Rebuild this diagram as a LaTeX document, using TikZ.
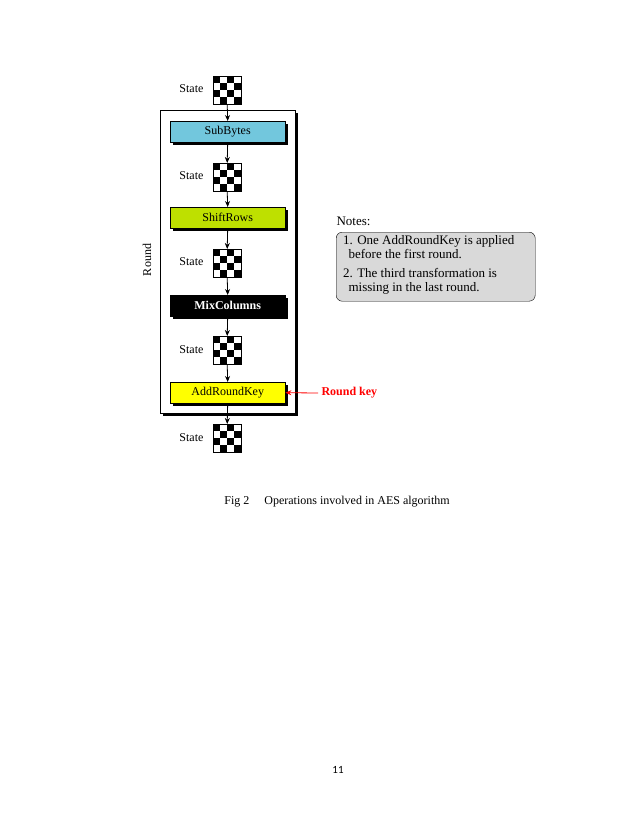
\documentclass[tikz,border=0pt]{standalone}
\usepackage{fontspec}
\setmainfont{Liberation Serif}
\newfontfamily\pagefont{Carlito}
\usetikzlibrary{arrows.meta}
\definecolor{subc}{HTML}{72C7DD}
\definecolor{shiftc}{HTML}{BEE000}
\definecolor{addc}{HTML}{FFFF00}
\definecolor{notec}{HTML}{D9D9D9}
\tikzset{x=1pt,y=-1pt,
  opbox/.style={draw,minimum width=115pt,minimum height=21pt,inner sep=0pt,font=\fontsize{12}{14}\selectfont,
    drop shadow/.style={}},
  shadowfill/.style={fill=black},
  statelbl/.style={font=\fontsize{12}{14}\selectfont,anchor=east},
  arr/.style={-{Stealth[length=6pt,width=5pt]},thick}}
\newcommand{\checkgrid}[3]{% name, x, y (top-left)
  \node[draw,minimum size=28pt,inner sep=0pt,anchor=north west] (#1) at (#2,#3) {};
  \foreach \i in {0,...,3}{\foreach \j in {0,...,3}{
    \pgfmathparse{int(mod(\i+\j,2))}
    \ifnum\pgfmathresult=0 \fill (#2+7*\i,#3+7*\j) rectangle ++(7,7);\fi}}
  \draw (#2,#3) rectangle ++(28,28);}
\begin{document}
\begin{tikzpicture}
\useasboundingbox (0,0) rectangle (638,826);
% round frame with shadow
\fill (163,113) rectangle (298,416);
\node[draw,fill=white,minimum width=135pt,minimum height=303pt,inner sep=0pt,anchor=north west] (frame) at (160,110) {};
\node[rotate=90,font=\fontsize{12}{14}\selectfont] (roundlbl) at (147,260) {Round};
% states
\checkgrid{s1}{213}{76}
\checkgrid{s2}{213}{163}
\checkgrid{s3}{213}{249}
\checkgrid{s4}{213}{336}
\checkgrid{s5}{213}{424}
\node[statelbl] (l1) at (207,89) {State};
\node[statelbl] (l2) at (207,176) {State};
\node[statelbl] (l3) at (207,262) {State};
\node[statelbl] (l4) at (207,350) {State};
\node[statelbl] (l5) at (207,438) {State};
% op boxes with shadow
\foreach \yy in {121,207,295,382}{\fill (173,\yy+3) rectangle (288,\yy+24);}
\node[opbox,fill=subc,anchor=north west] (sub) at (170,121) {SubBytes};
\node[opbox,fill=shiftc,anchor=north west] (shift) at (170,207) {ShiftRows};
\node[opbox,fill=black,text=white,anchor=north west,font=\fontsize{12}{14}\selectfont\bfseries] (mix) at (170,295) {MixColumns};
\node[opbox,fill=addc,anchor=north west] (add) at (170,382) {AddRoundKey};
% arrows
\draw[arr] (s1.south) -- (sub.north);
\draw[arr] (sub.south) -- (s2.north);
\draw[arr] (s2.south) -- (shift.north);
\draw[arr] (shift.south) -- (s3.north);
\draw[arr] (s3.south) -- (mix.north);
\draw[arr] (mix.south) -- (s4.north);
\draw[arr] (s4.south) -- (add.north);
\draw[arr] (add.south) -- (s5.north);
% round key
\node[text=red,font=\fontsize{12}{14}\selectfont\bfseries,anchor=west] (rk) at (318,393) {Round key};
\draw[red,thick,-{Stealth[length=6pt,width=5pt]}] (rk.west) -- (add.east);
% notes
\node[anchor=west,font=\fontsize{13}{15}\selectfont] (notes) at (333,221) {Notes:};
\node[draw,fill=notec,rounded corners=6pt,minimum width=199pt,minimum height=69pt,anchor=north west,inner sep=0pt] (nb) at (336,232) {};
\node[anchor=north west,align=left,font=\fontsize{13}{14.5}\selectfont,inner sep=0pt] (nt) at (343,235)
 {1. One AddRoundKey is applied\\\ \,before the first round.\\[4pt]2. The third transformation is\\\ \,missing in the last round.};
% caption
\node[font=\fontsize{12}{14}\selectfont] (cap) at (337,502) {Fig 2\quad\ Operations involved in AES algorithm};
\node[font=\pagefont\fontsize{11}{13}\selectfont] (pg) at (338,770) {11};
\end{tikzpicture}
\end{document}
